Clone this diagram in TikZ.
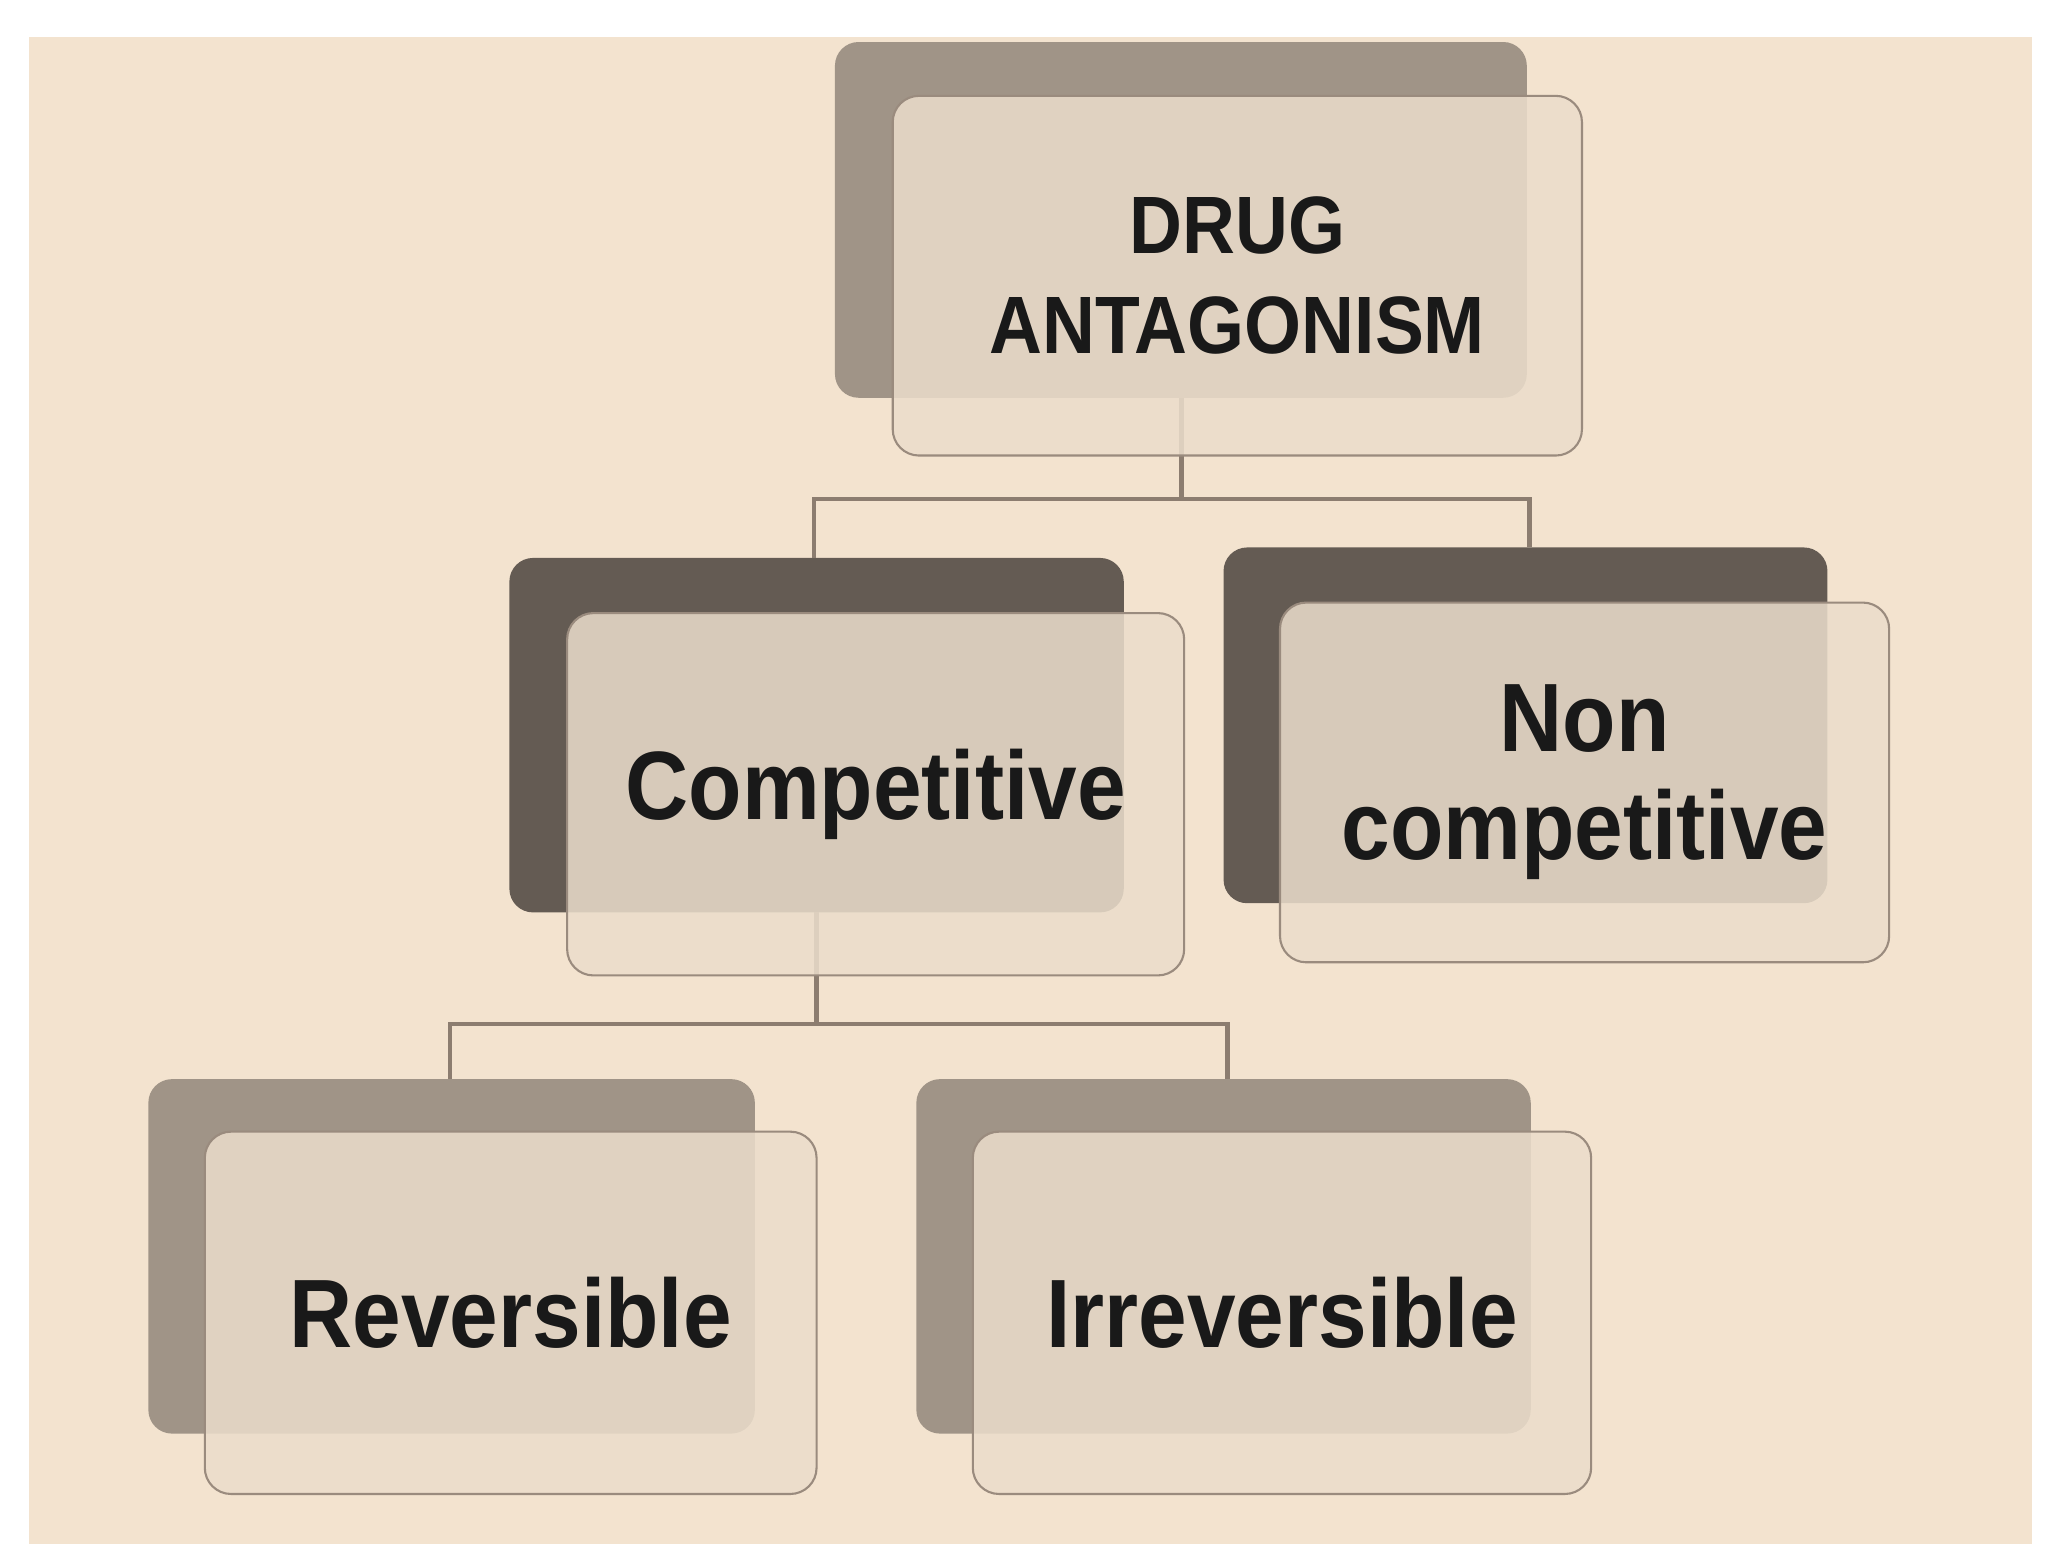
\documentclass[tikz,border=0pt]{standalone}
\usepackage{fontspec}
\setmainfont{Liberation Sans}
\newfontfamily\narrowfont[FakeStretch=0.9]{Liberation Sans}
\definecolor{bg}{HTML}{F3E3CF}
\definecolor{frontc}{HTML}{EBDDCB}
\definecolor{edgec}{HTML}{9A8B7E}
\definecolor{lightback}{HTML}{A09487}
\definecolor{darkback}{HTML}{645B53}
\definecolor{linec}{HTML}{8C7D70}
\begin{document}
\begin{tikzpicture}[x=0.5pt,y=-0.5pt,
  frontbox/.style={draw=edgec,line width=0.8pt,fill=frontc,fill opacity=0.86,text opacity=1,rounded corners=10pt,inner sep=0pt,outer sep=0pt,align=center,text=black!90},
  conn/.style={draw=linec,line width=1.6pt}]
\useasboundingbox (0,0) rectangle (1560,1176);
\fill[white] (0,0) rectangle (1560,1176);
\fill[bg] (22,28) rectangle (1548,1176);
% back boxes
\fill[lightback,rounded corners=9pt] (636,32) rectangle (1163,303);
\fill[darkback,rounded corners=9pt] (388,425) rectangle (856,695);
\fill[darkback,rounded corners=9pt] (932,417) rectangle (1392,688);
\fill[lightback,rounded corners=9pt] (113,822) rectangle (575,1092);
\fill[lightback,rounded corners=9pt] (698,822) rectangle (1166,1092);
% connectors
\coordinate (t) at (900,303);
\coordinate (tb) at (900,380);
\coordinate (cl) at (620,425);
\coordinate (nl) at (1165,417);
\coordinate (c) at (622,695);
\coordinate (cb) at (622,780);
\coordinate (rl) at (343,822);
\coordinate (il) at (935,822);
\draw[conn] (t) -- (tb) -| (cl);
\draw[conn] (tb) -| (nl);
\draw[conn] (c) -- (cb) -| (rl);
\draw[conn] (cb) -| (il);
% front boxes
\node[frontbox,minimum width=262.5pt,minimum height=137pt,font=\narrowfont\bfseries\fontsize{31}{38}\selectfont] (top) at (942.5,210) {DRUG\\ANTAGONISM};
\node[frontbox,minimum width=235pt,minimum height=138pt,font=\narrowfont\bfseries\fontsize{37}{40}\selectfont] (comp) at (667,605) {Competitive};
\node[frontbox,minimum width=232pt,minimum height=137pt,font=\narrowfont\bfseries\fontsize{37}{41}\selectfont] (non) at (1207,596) {Non\\competitive};
\node[frontbox,minimum width=233pt,minimum height=138pt,font=\narrowfont\bfseries\fontsize{37}{40}\selectfont] (rev) at (389,1000) {Reversible};
\node[frontbox,minimum width=235.5pt,minimum height=138pt,font=\narrowfont\bfseries\fontsize{37}{40}\selectfont] (irr) at (976.5,1000) {Irreversible};
\end{tikzpicture}
\end{document}
